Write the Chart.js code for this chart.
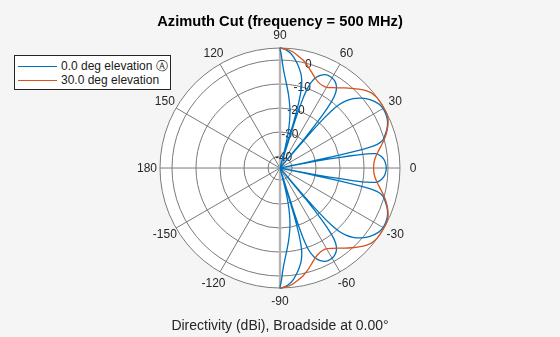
<!DOCTYPE html>
<html>
<head>
<meta charset="utf-8">
<script src="https://cdn.jsdelivr.net/npm/chart.js@4/dist/chart.umd.min.js"></script>
<style>
  html, body { margin: 0; padding: 0; background: #f5f5f5; }
  #wrap { position: relative; width: 560px; height: 337px; }
  canvas { display: block; }
  #legend {
    position: absolute; left: 14px; top: 55px; width: 157px; height: 35px;
    box-sizing: border-box; border: 1px solid #262626; background: #fff;
    font: 12px "Liberation Sans", Arial, sans-serif; color: #1a1a1a;
  }
  #legend .item { position: absolute; left: 0; height: 14px; line-height: 14px; white-space: nowrap; }
  #legend .swatch { position: absolute; left: 3px; top: 7px; width: 39px; height: 0; border-top: 1.3px solid; }
  #legend .text { position: absolute; left: 46px; top: 0; }
</style>
</head>
<body>
<div id="wrap">
  <canvas id="chart" width="560" height="337"></canvas>
  <div id="legend"></div>
</div>
<script>
// Radial (magnitude) range in dBi and grid ticks
const rMin = -45;
const rMax = 5;
const radialTicks = [-40, -30, -20, -10, 0];
const radialLabelAngle = 75;
const angleTicks = [0, 30, 60, 90, 120, 150, 180, -150, -120, -90, -60, -30];

const titleText = 'Azimuth Cut (frequency = 500 MHz)';
const axisText = 'Directivity (dBi), Broadside at 0.00°';
const seriesNames = ['0.0 deg elevation', '30.0 deg elevation'];
const activeMark = ' Ⓐ';

// 0.0 deg elevation: azimuth (deg) and directivity (dBi)
const az0 = [
  -74.8, -75.8, -77, -78.5, -80, -81.5, -83.5, -85.3, -86.8, -87.8, -88.6, -89.3,
  -90, -88.5, -87, -85, -83, -81, -79, -77.2, -75.8, -74.8, -74, -73.4, -72.9,
  -72.4, -71.8, -71, -70, -68.5, -66.5, -64, -61, -58, -55.5, -53.5, -52.2, -51.2, -50.4, -49.8,
  -49.3, -48.7, -48, -47, -45.5, -43.5, -41, -38, -35, -32, -29, -26, -23, -20, -17.5, -16,
  -14.6, -13.6, -12.8, -12.2, -11.9, -11.6, -11, -10.4, -9.8, -9.2, -8.5, -7.5, -6, -4, -2,
  0,
  2, 4, 6, 7.5, 8.5, 9.2, 9.8, 10.4, 11, 11.6, 11.9, 12.2, 12.8, 13.6, 14.6,
  16, 17.5, 20, 23, 26, 29, 32, 35, 38, 41, 43.5, 45.5, 47, 48, 48.7, 49.3,
  49.8, 50.4, 51.2, 52.2, 53.5, 55.5, 58, 61, 64, 66.5, 68.5, 70, 71, 71.8, 72.4,
  72.9, 73.4, 74, 74.8, 75.8, 77.2, 79, 81, 83, 85, 87, 88.5, 90,
  89.3, 88.6, 87.8, 86.8, 85.3, 83.5, 81.5, 80, 78.5, 77, 75.8, 74.8
];
const dir0 = [
  -45, -36, -30, -25, -21, -18, -14, -10.5, -7.2, -4.5, -1.5, 2,
  5, 4.8, 4.3, 3.2, 1.6, -0.5, -2.8, -5.2, -8, -11.5, -17, -25, -45,
  -25, -15, -10, -7, -4.6, -2.9, -1.7, -1.5, -2.1, -3.5, -6, -10, -17, -28, -45,
  -30, -19, -13, -9, -5.8, -3, -0.6, 1.6, 3.2, 4.3, 4.6, 4.4, 3.7, 2.4, 0.9, 0,
  -1.3, -3.5, -8.5, -22, -35, -45, -33, -24, -15, -8, -4.6, -3.3, -2.2, -1.3, -0.9,
  -0.7,
  -0.9, -1.3, -2.2, -3.3, -4.6, -8, -15, -24, -33, -45, -35, -22, -8.5, -3.5, -1.3,
  0, 0.9, 2.4, 3.7, 4.4, 4.6, 4.3, 3.2, 1.6, -0.6, -3, -5.8, -9, -13, -19, -30,
  -45, -28, -17, -10, -6, -3.5, -2.1, -1.5, -1.7, -2.9, -4.6, -7, -10, -15, -25,
  -45, -25, -17, -11.5, -8, -5.2, -2.8, -0.5, 1.6, 3.2, 4.3, 4.8, 5,
  2, -1.5, -4.5, -7.2, -10.5, -14, -18, -21, -25, -30, -36, -45
];

// 30.0 deg elevation: azimuth (deg) and directivity (dBi)
const az30 = [
  -90, -87, -84, -81, -78, -75, -72, -69, -66, -63, -60, -57, -54, -51, -48, -45, -42, -39,
  -36, -33, -30, -27, -24, -21, -18, -15, -12, -9, -6, -3,
  0,
  3, 6, 9, 12, 15, 18, 21, 24, 27, 30, 33, 36, 39, 42, 45, 48, 51, 54, 57, 60,
  63, 66, 69, 72, 75, 78, 81, 84, 87, 90
];
const dir30 = [
  5, 4.6, 3.8, 2.4, 1, -0.8, -2.8, -4.6, -5.8, -6.3, -6.2, -5.1, -3.7, -2, -0.3, 1.5, 3.2, 4.4,
  4.9, 5, 5, 4.9, 4.3, 3.1, 1.6, -0.2, -2.1, -3.8, -5.1, -5.8,
  -6,
  -5.8, -5.1, -3.8, -2.1, -0.2, 1.6, 3.1, 4.3, 4.9, 5, 5, 4.9, 4.4, 3.2, 1.5, -0.3, -2, -3.7, -5.1, -6.2,
  -6.3, -5.8, -4.6, -2.8, -0.8, 1, 2.4, 3.8, 4.6, 5
];

const seriesColors = ['#0072BD', '#D95319'];
const gridColor = '#7a7a7a';
const textColor = '#262626';
const fontFamily = '"Liberation Sans", Arial, Helvetica, sans-serif';

// Polar (azimuth, dB) -> cartesian offsets measured from the plot centre, in dB units
function toXY(az, dir) {
  return az.map((a, i) => {
    const r = Math.max(dir[i], rMin) - rMin;
    const t = a * Math.PI / 180;
    return { x: r * Math.cos(t), y: r * Math.sin(t) };
  });
}

// Circular grid, spokes and labels drawn from the chart's own linear scales
const polarGrid = {
  id: 'polarGrid',
  beforeDatasetsDraw(chart) {
    const { ctx } = chart;
    const xs = chart.scales.x, ys = chart.scales.y;
    const cx = xs.getPixelForValue(0);
    const cy = ys.getPixelForValue(0);
    const rad = v => xs.getPixelForValue(v - rMin) - cx;
    const R = rad(rMax);
    ctx.save();
    ctx.fillStyle = '#ffffff';
    ctx.beginPath();
    ctx.arc(cx, cy, R, 0, Math.PI * 2);
    ctx.fill();

    ctx.strokeStyle = gridColor;
    ctx.lineWidth = 1;
    radialTicks.concat([rMax]).forEach(v => {
      ctx.beginPath();
      ctx.arc(cx, cy, rad(v), 0, Math.PI * 2);
      ctx.stroke();
    });
    angleTicks.forEach(a => {
      if (Math.abs(a) === 90) return;
      const t = a * Math.PI / 180;
      ctx.beginPath();
      ctx.moveTo(cx, cy);
      ctx.lineTo(cx + R * Math.cos(t), cy - R * Math.sin(t));
      ctx.stroke();
    });
    // array axis (90 / -90)
    ctx.strokeStyle = '#b4b4b4';
    ctx.lineWidth = 2.4;
    ctx.beginPath();
    ctx.moveTo(cx, cy - R);
    ctx.lineTo(cx, cy + R);
    ctx.stroke();

    ctx.fillStyle = textColor;
    ctx.font = '12px ' + fontFamily;
    ctx.textAlign = 'center';
    ctx.textBaseline = 'middle';
    angleTicks.forEach(a => {
      const t = a * Math.PI / 180;
      const rr = R + 13;
      ctx.fillText(String(a), cx + rr * Math.cos(t), cy - rr * Math.sin(t) + 0.5);
    });
    const tl = radialLabelAngle * Math.PI / 180;
    radialTicks.forEach(v => {
      const rr = rad(v);
      ctx.fillText(String(v), cx + rr * Math.cos(tl) + 0.5, cy - rr * Math.sin(tl) + 1);
    });
    ctx.restore();
  }
};

const chart = new Chart(document.getElementById('chart'), {
  type: 'scatter',
  data: {
    datasets: [
      {
        label: seriesNames[0], data: toXY(az0, dir0), showLine: true,
        borderColor: seriesColors[0], backgroundColor: seriesColors[0],
        borderWidth: 1.3, pointRadius: 0, tension: 0.2, order: 1
      },
      {
        label: seriesNames[1], data: toXY(az30, dir30), showLine: true,
        borderColor: seriesColors[1], backgroundColor: seriesColors[1],
        borderWidth: 1.3, pointRadius: 0, tension: 0.2, order: 0
      }
    ]
  },
  options: {
    responsive: false,
    animation: false,
    layout: { padding: 0 },
    scales: {
      x: { type: 'linear', display: false, min: -116.6667, max: 116.6667 },
      y: { type: 'linear', display: false, min: -57.5, max: 57.5 }
    },
    plugins: {
      legend: { display: false },
      tooltip: { enabled: false },
      title: {
        display: true, text: titleText, color: '#000000',
        font: { family: fontFamily, size: 14.67, weight: 'bold', lineHeight: 1.1 },
        padding: { top: 13.9, bottom: 0 }
      },
      subtitle: {
        display: true, position: 'bottom', text: axisText, color: textColor,
        font: { family: fontFamily, size: 14, weight: 'normal', lineHeight: 1.2 },
        padding: { top: 11.6, bottom: 2.6 }
      }
    }
  },
  plugins: [polarGrid]
});

// Boxed legend in the upper left, built from the dataset labels
const legendEl = document.getElementById('legend');
chart.data.datasets.forEach((ds, i) => {
  const item = document.createElement('div');
  item.className = 'item';
  item.style.top = (3 + i * 14.3) + 'px';
  item.style.width = '100%';
  const sw = document.createElement('span');
  sw.className = 'swatch';
  sw.style.borderTopColor = ds.borderColor;
  const tx = document.createElement('span');
  tx.className = 'text';
  tx.textContent = ds.label + (i === 0 ? activeMark : '');
  item.appendChild(sw);
  item.appendChild(tx);
  legendEl.appendChild(item);
});
</script>
</body>
</html>
